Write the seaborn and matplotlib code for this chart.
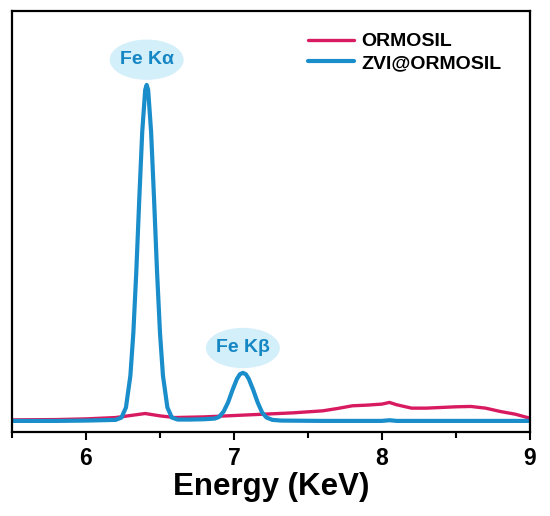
import numpy as np
import pandas as pd
import matplotlib
matplotlib.use("Agg")
import matplotlib.pyplot as plt
import seaborn as sns
from matplotlib.patches import Ellipse
from matplotlib.ticker import MultipleLocator

# ORMOSIL spectrum
ormosil_energy = [5.5, 5.8, 6.0, 6.2, 6.3, 6.4, 6.5, 6.6, 6.8, 7.0, 7.2, 7.4,
                  7.6, 7.7, 7.8, 7.9, 8.0, 8.05, 8.1, 8.2, 8.3, 8.4, 8.5,
                  8.6, 8.7, 8.8, 8.9, 9.0]
ormosil_counts = [0.003, 0.004, 0.006, 0.010, 0.016, 0.022, 0.015, 0.010,
                  0.012, 0.016, 0.020, 0.024, 0.030, 0.037, 0.045, 0.047,
                  0.050, 0.055, 0.048, 0.038, 0.038, 0.040, 0.042, 0.043,
                  0.038, 0.028, 0.020, 0.008]

# ZVI@ORMOSIL spectrum
zvi_energy = [5.5, 5.8, 6.0, 6.1, 6.2, 6.24, 6.27, 6.30, 6.32, 6.34, 6.36,
              6.38, 6.40, 6.41, 6.42, 6.44, 6.46, 6.48, 6.50, 6.52, 6.55,
              6.58, 6.62, 6.70, 6.80, 6.87, 6.90, 6.93, 6.96, 6.99, 7.02,
              7.04, 7.06, 7.08, 7.10, 7.13, 7.16, 7.19, 7.22, 7.26, 7.32,
              7.6, 8.0, 8.05, 8.1, 8.5, 9.0]
zvi_counts = [0.000, 0.000, 0.001, 0.002, 0.003, 0.010, 0.040, 0.135, 0.262,
              0.445, 0.660, 0.860, 0.985, 1.000, 0.985, 0.860, 0.660, 0.445,
              0.262, 0.135, 0.040, 0.010, 0.004, 0.004, 0.005, 0.007, 0.012,
              0.028, 0.055, 0.092, 0.125, 0.139, 0.143, 0.139, 0.125, 0.092,
              0.055, 0.025, 0.010, 0.003, 0.001, 0.000, 0.000, 0.002, 0.000,
              0.000, 0.000]

peak_labels = ["Fe K\u03b1", "Fe K\u03b2"]
peak_energy = [6.41, 7.06]
peak_label_y = [1.075, 0.217]

PINK = "#D81B60"
BLUE = "#1A8DCB"

sns.set_theme(style="white")
plt.rcParams["font.family"] = ["Liberation Sans", "DejaVu Sans"]
plt.rcParams["font.weight"] = "bold"
plt.rcParams["text.color"] = "black"
plt.rcParams["axes.labelcolor"] = "black"
plt.rcParams["xtick.color"] = "black"

fig = plt.figure(figsize=(5.5, 5.16), dpi=100)
ax = fig.add_axes([0.0218, 0.1628, 0.9418, 0.8159])

df_orm = pd.DataFrame({"Energy": ormosil_energy, "Counts": ormosil_counts})
df_zvi = pd.DataFrame({"Energy": zvi_energy, "Counts": zvi_counts})

sns.lineplot(data=df_orm, x="Energy", y="Counts", ax=ax, color=PINK,
             lw=2.4, label="ORMOSIL", sort=False)
sns.lineplot(data=df_zvi, x="Energy", y="Counts", ax=ax, color=BLUE,
             lw=3.0, label="ZVI@ORMOSIL", sort=False)

for lab, xe, ye in zip(peak_labels, peak_energy, peak_label_y):
    ax.add_patch(Ellipse((xe, ye), 0.5, 0.12, facecolor="#D3EFFA",
                         edgecolor="none", zorder=1))
    ax.text(xe, ye, lab, ha="center", va="center", color="#1586C4",
            fontsize=14, fontweight="bold", zorder=3)

ax.set_xlim(5.5, 9.0)
ax.set_ylim(-0.033, 1.22)
ax.set_yticks([])
ax.xaxis.set_major_locator(MultipleLocator(1))
ax.xaxis.set_minor_locator(MultipleLocator(0.5))
ax.tick_params(axis="x", which="major", direction="out", length=6, width=1.5,
               labelsize=16.5, bottom=True, pad=5, colors="black")
ax.tick_params(axis="x", which="minor", direction="out", length=4, width=1.5,
               bottom=True, colors="black")
for lbl in ax.get_xticklabels():
    lbl.set_fontweight("bold")
for sp in ax.spines.values():
    sp.set_color("black")
    sp.set_linewidth(1.6)

ax.set_xlabel("Energy (KeV)", fontsize=22.5, fontweight="bold", labelpad=1,
              color="black")
ax.set_ylabel("")

leg = ax.legend(loc="upper left", bbox_to_anchor=(0.537, 0.99), frameon=False,
                fontsize=14, handlelength=2.4, handletextpad=0.36,
                labelspacing=0.22)
for t in leg.get_texts():
    t.set_fontweight("bold")
    t.set_color("black")

fig.savefig("out.png", dpi=100)
